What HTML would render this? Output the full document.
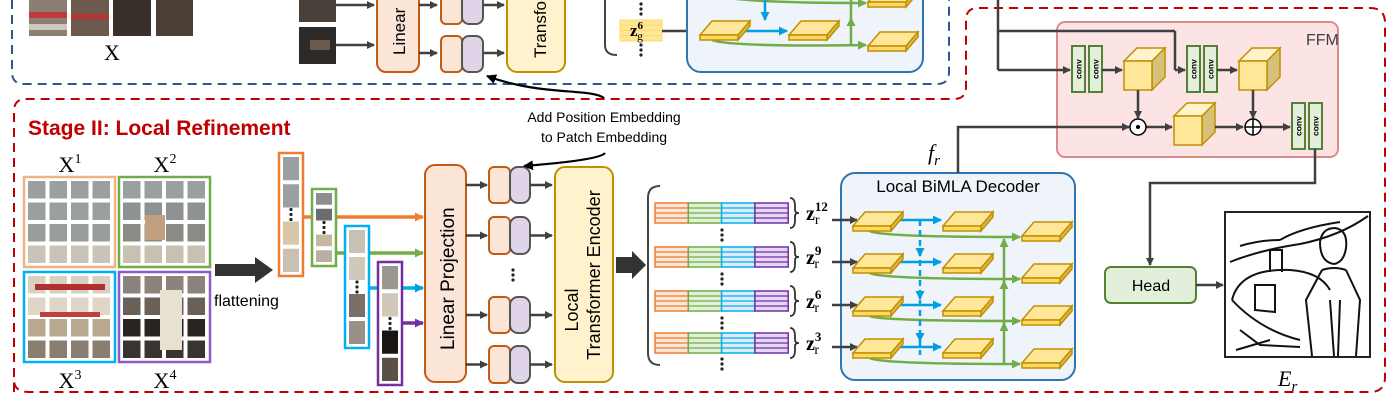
<!DOCTYPE html>
<html><head><meta charset="utf-8"><style>
html,body{margin:0;padding:0;background:#fff;width:1394px;height:406px;overflow:hidden}
svg{display:block;font-family:"Liberation Sans",sans-serif}
</style></head><body>
<svg id="s" xmlns="http://www.w3.org/2000/svg" width="1394" height="406" viewBox="0 0 1394 406">
<defs>
<marker id="ag" markerWidth="8" markerHeight="8" refX="7" refY="4" orient="auto" markerUnits="userSpaceOnUse"><path d="M0,0 L8,4 L0,8 z" fill="#404040"/></marker>
<marker id="agr" markerWidth="9" markerHeight="9" refX="8" refY="4.5" orient="auto" markerUnits="userSpaceOnUse"><path d="M0,0 L9,4.5 L0,9 z" fill="#70ad47"/></marker>
<marker id="abl" markerWidth="9" markerHeight="9" refX="8" refY="4.5" orient="auto" markerUnits="userSpaceOnUse"><path d="M0,0 L9,4.5 L0,9 z" fill="#00a0e0"/></marker>
<marker id="aor" markerWidth="9" markerHeight="9" refX="8" refY="4.5" orient="auto" markerUnits="userSpaceOnUse"><path d="M0,0 L9,4.5 L0,9 z" fill="#ed7d31"/></marker>
<marker id="apu" markerWidth="9" markerHeight="9" refX="8" refY="4.5" orient="auto" markerUnits="userSpaceOnUse"><path d="M0,0 L9,4.5 L0,9 z" fill="#7030a0"/></marker>
<marker id="ak" markerWidth="10" markerHeight="10" refX="9" refY="5" orient="auto" markerUnits="userSpaceOnUse"><path d="M0,0 L10,5 L0,10 z" fill="#000"/></marker>
</defs>

<path d="M12,0 L12,72 Q12,84 24,84 L937,84 Q949,84 949,72 L949,0" fill="none" stroke="#2f5597" stroke-width="2" stroke-dasharray="9,6"/>
<path d="M14,392 L14,111 Q14,99 26,99 L954,99 Q966,99 966,87 L966,20 Q966,8 978,8 L1370,8 Q1385,8 1385,23 L1385,377 Q1385,392 1370,392 L29,392 Q14,392 14,380" fill="none" stroke="#c00000" stroke-width="2" stroke-dasharray="9,6"/>

<g id="g"></g>

<text x="28" y="135" font-size="21" font-weight="bold" fill="#c00000">Stage II: Local Refinement</text>
<text x="112" y="60" font-size="22" font-family="Liberation Serif,serif" text-anchor="middle">X</text>
<text x="70" y="172" font-size="22" font-family="Liberation Serif,serif" text-anchor="middle">X<tspan font-size="14" dy="-9">1</tspan></text>
<text x="165" y="172" font-size="22" font-family="Liberation Serif,serif" text-anchor="middle">X<tspan font-size="14" dy="-9">2</tspan></text>
<text x="70" y="388" font-size="22" font-family="Liberation Serif,serif" text-anchor="middle">X<tspan font-size="14" dy="-9">3</tspan></text>
<text x="165" y="388" font-size="22" font-family="Liberation Serif,serif" text-anchor="middle">X<tspan font-size="14" dy="-9">4</tspan></text>
<text x="214" y="306" font-size="16">flattening</text>
<text x="604" y="122" font-size="14" text-anchor="middle">Add Position Embedding</text>
<text x="604" y="142" font-size="14" text-anchor="middle">to Patch Embedding</text>
<text x="958" y="192" font-size="17" text-anchor="middle">Local BiMLA Decoder</text>
<text x="1306" y="45" font-size="16" fill="#404040">FFM</text>
<text x="1151" y="291" font-size="16" text-anchor="middle">Head</text>
<text x="928" y="160" font-size="22" font-style="italic" font-family="Liberation Serif,serif">f<tspan font-size="15" dy="5">r</tspan></text>
<text x="1278" y="386" font-size="22" font-style="italic" font-family="Liberation Serif,serif">E<tspan font-size="15" dy="5">r</tspan></text>
</svg>
<script>
const G=document.getElementById('g');
function e(t,a,tx){const n=document.createElementNS('http://www.w3.org/2000/svg',t);for(const k in a)n.setAttribute(k,a[k]);if(tx!==undefined)n.textContent=tx;G.appendChild(n);return n;}
function R(x,y,w,h,f,s,sw,r){return e('rect',{x,y,width:w,height:h,fill:f,stroke:s||'none','stroke-width':sw||0,rx:r||0});}
function L(x1,y1,x2,y2,c,w,m,d){const a={x1,y1,x2,y2,stroke:c,'stroke-width':w||2};if(m)a['marker-end']='url(#'+m+')';if(d)a['stroke-dasharray']=d;return e('line',a);}
function P(d,c,w,m,f,da){const a={d,stroke:c,'stroke-width':w||2,fill:f||'none'};if(m)a['marker-end']='url(#'+m+')';if(da)a['stroke-dasharray']=da;return e('path',a);}
function T(x,y,s,tx,o){const a=Object.assign({x,y,'font-size':s},o||{});return e('text',a,tx);}
function dots(x,y){for(let i=0;i<3;i++)e('circle',{cx:x,cy:y+i*5,r:1.6,fill:'#222'});}

const pc=['#8a7f74','#6e5a4c','#3a302b','#4a4038'];
[[29,67],[71,109],[113,151],[156,193]].forEach((p,i)=>{R(p[0],0,p[1]-p[0],36,pc[i]);});
R(29,12,38,6,'#c23a3a');R(71,14,38,5,'#b83434');R(29,24,38,6,'#d0c7b8');
R(299,0,37,22,'#4a403a');R(299,27,37,37,'#2e2a28');R(310,40,20,10,'#6b5a4e');
L(336,5,374,5,'#404040',2.5,'ag');L(336,45,374,45,'#404040',2.5,'ag');
R(377,-12,42,84,'#fbe5d6','#c55a11',2,9);
T(0,0,17,'Linear',{transform:'translate(405,55) rotate(-90)'});
L(419,5,437,5,'#404040',2.5,'ag');L(419,53,437,53,'#404040',2.5,'ag');
R(441,-14,21,38,'#fbe5d6','#c55a11',2,5);R(462,-14,21,38,'#e0d5e8','#555',2,7);
R(441,36,21,36,'#fbe5d6','#c55a11',2,5);R(462,36,21,36,'#e0d5e8','#555',2,7);
L(483,5,504,5,'#404040',2.5,'ag');L(483,53,504,53,'#404040',2.5,'ag');
R(507,-12,58,84,'#fff2cc','#bf9000',2,10);
T(0,0,17,'Transformer',{transform:'translate(546,58) rotate(-90)'});
P('M604,98 C590,88 540,96 487,76','#000',2.2,'ak');
P('M605,0 L605,45 Q605,55 617,55','#444',2);
dots(641,4);dots(641,45);
R(620,20,42,21,'#ffe699','#ffd966',1);
for(let i=1;i<4;i++)L(620,20+i*5.2,662,20+i*5.2,'#ffd966',1);
T(630,36,17,'',{'font-family':'Liberation Serif,serif','font-weight':'bold'}).innerHTML='z<tspan font-size="11" dy="-7">6</tspan><tspan font-size="12" font-weight="normal" dx="-6" dy="11">g</tspan>';
L(662,31,698,31,'#404040',2.5,'ag');
R(687,-14,236,86,'#eef4fa','#2e75b6',2,14);

function layer(x,y){
 e('polygon',{points:`${x},${y+14} ${x+12},${y} ${x+50},${y} ${x+38},${y+14}`,fill:'#ffe699',stroke:'#bf9000','stroke-width':1.5});
 e('polygon',{points:`${x},${y+14} ${x+38},${y+14} ${x+38},${y+19} ${x},${y+19}`,fill:'#ffd966',stroke:'#bf9000','stroke-width':1.5});
 e('polygon',{points:`${x+38},${y+14} ${x+50},${y} ${x+50},${y+5} ${x+38},${y+19}`,fill:'#e0b84a',stroke:'#bf9000','stroke-width':1.5});
}
P('M712,-6 Q730,3 866,3','#70ad47',2.5,'agr');
P('M765,-10 L765,20','#00a0e0',2.5,'abl','6,4');
P('M745,31 L787,31','#00a0e0',2.5,'abl','6,4');
P('M851,45 L851,-5','#70ad47',2.5);
P('M712,40 Q730,47 866,45','#70ad47',2.5,'agr');
P('M851,22 L851,18','#70ad47',2.5,'agr');
layer(700,21);layer(789,21);layer(868,-12);layer(868,32);

const boxes=[[24,177,'#f4b183',['#9aa0a0','#9aa0a0','#9a9e9a','#c8c4b8']],[119,177,'#70ad47',['#9aa0a0','#8e9292','#8a8a86','#c8c0b0']],[24,272,'#00b0f0',['#d8d0c0','#e0d6c6','#b8a890','#8a7e70']],[119,272,'#8e5cc0',['#8a847c','#6a6058','#2a2420','#3a3430']]];
boxes.forEach(b=>{R(b[0],b[1],91,90,'#fff',b[2],2.5);for(let r=0;r<4;r++)for(let c=0;c<4;c++)R(b[0]+4+c*21.5,b[1]+4+r*21.5,17.5,17.5,b[3][r]);});
R(35,284,70,6,'#b03030');R(40,312,60,5,'#c04040');R(145,215,20,25,'#c0a080');R(160,290,22,60,'#e8e0d0');
e('polygon',{points:'215,264 255,264 255,257 273,270 255,283 255,276 215,276',fill:'#333'});
const strips=[[279,153,123,'#ed7d31',217,'aor',['#9aa0a0','#9aa0a0','#d8c8a8','#c8c0b0']],[312,189,77,'#70ad47',253,'agr',['#8a9090','#6a6e6e','#c8b8a0','#b8b0a0']],[345,226,122,'#00b0f0',288,'abl',['#c8c0b0','#d0c8b8','#7a7068','#9a9088']],[378,262,123,'#7030a0',323,'apu',['#9a9690','#d0c8b8','#1a1614','#5a5048']]];
strips.forEach(s=>{const[x,y,h,c,ay,m,cl]=s;R(x,y,24,h,'#fff',c,2.5);const ch=(h-30)/4;
 R(x+4,y+4,16,ch,cl[0]);R(x+4,y+8+ch,16,ch,cl[1]);dots(x+12,y+h/2-5);R(x+4,y+h-8-2*ch,16,ch,cl[2]);R(x+4,y+h-4-ch,16,ch,cl[3]);
 L(x+24,ay,423,ay,c,3.5,m);});
R(425,165,41,217,'#fbe5d6','#c55a11',2,10);
T(0,0,19,'Linear  Projection',{transform:'translate(454,350) rotate(-90)'});
[[167,203],[217,254],[297,333],[346,383]].forEach(r=>{const cy=(r[0]+r[1])/2;
 L(466,cy,487,cy,'#404040',2.5,'ag');R(489,r[0],21,r[1]-r[0],'#fbe5d6','#c55a11',2,5);R(510,r[0],20,r[1]-r[0],'#e0d5e8','#555',2,8);L(530,cy,552,cy,'#404040',2.5,'ag');});
dots(513,270);
P('M605,153 Q600,160 524,166','#000',2.2,'ak');
R(555,167,58,215,'#fff2cc','#bf9000',2,10);
T(0,0,18,'Local',{transform:'translate(578,310) rotate(-90)','text-anchor':'middle'});
T(0,0,18,'Transformer Encoder',{transform:'translate(600,275) rotate(-90)','text-anchor':'middle'});
e('polygon',{points:'616,257 632,257 632,251 646,265 632,279 632,273 616,273',fill:'#333'});
P('M660,186 Q648,186 648,198 L648,353 Q648,365 660,365','#444',2);
const tc=[['#ed7d31','#fbe5d6'],['#70ad47','#e2f0d9'],['#00b0f0','#ddebf7'],['#7030a0','#e6d6f5']];
const rows=[203,247,291,333];
rows.forEach(y=>{tc.forEach((c,i)=>{const x=655+i*33.3;R(x,y,33.3,20,c[1],c[0],1.5);for(let k=1;k<4;k++)L(x,y+k*5,x+33.3,y+k*5,c[0],1.2);});
 P(`M790,${y-5} Q795,${y-5} 795,${y+3} L795,${y+7} Q795,${y+10} 799,${y+10} Q795,${y+10} 795,${y+13} L795,${y+17} Q795,${y+25} 790,${y+25}`,'#333',1.8);});
dots(722,230);dots(722,274);dots(722,318);dots(722,359);
const zl=['12','9','6','3'];
rows.forEach((y,i)=>{const t=T(806,y+17,20,'',{'font-family':'Liberation Serif,serif','font-weight':'bold'});t.innerHTML='z<tspan font-size="13" dy="-9">'+zl[i]+'</tspan><tspan font-size="14" font-weight="normal" dx="'+(zl[i].length>1?-13:-7)+'" dy="13">r</tspan>';});
R(841,173,234,207,'#eef4fa','#2e75b6',2,14);
const c1=[212,254,297,339],c3=[222,264,306,349];
c1.forEach((y,i)=>{L(832,y+8,857,y+8,'#404040',2.5,'ag');
 P(`M870,${y+19} Q880,${c3[i]+15} 1020,${c3[i]+15}`,'#70ad47',2.5,'agr');
 P(`M897,${y+8} L941,${y+8}`,'#00a0e0',2.5,'abl','6,4');});
P('M920,220 L920,355','#00a0e0',2.5,null,null,'6,4');
for(let i=1;i<4;i++)P(`M920,${c1[i]-4} L920,${c1[i]+2}`,'#00a0e0',2.5,'abl');
P('M1004,365 L1004,240','#70ad47',2.5);
for(let i=0;i<3;i++)P(`M1004,${c3[i]+26} L1004,${c3[i]+17}`,'#70ad47',2.5,'agr');
c1.forEach((y,i)=>{layer(853,y);layer(943,y);layer(1022,c3[i]);});
R(1057,22,281,135,'#fce4e4','#d98c8c',2,8);
L(998,0,998,70,'#404040',2.5);L(998,70,1070,70,'#404040',2.5,'ag');
L(998,31,1175,31,'#404040',2.5);L(1175,31,1175,70,'#404040',2.5);L(1175,70,1185,70,'#404040',2.5,'ag');
function conv(x,y){R(x,y,13,46,'#e2efda','#548235',2);T(0,0,8.5,'conv',{transform:`translate(${x+9.5},${y+33}) rotate(-90)`,'font-weight':'bold'});}
conv(1072,46);conv(1089,46);conv(1187,46);conv(1204,46);conv(1292,103);conv(1309,103);
function cube(x,y){e('polygon',{points:`${x},${y+13} ${x+13},${y} ${x+41},${y} ${x+28},${y+13}`,fill:'#fff2cc',stroke:'#bf9000','stroke-width':1.5});
 e('polygon',{points:`${x+28},${y+13} ${x+41},${y} ${x+41},${y+29} ${x+28},${y+42}`,fill:'#d6c07a',stroke:'#bf9000','stroke-width':1.5});
 R(x,y+13,28,29,'#ffe699','#bf9000',1.5);}
L(1102,70,1122,70,'#404040',2.5,'ag');L(1217,70,1237,70,'#404040',2.5,'ag');
cube(1124,48);cube(1239,48);cube(1174,103);
L(1138,90,1138,118,'#404040',2.5,'ag');L(1253,90,1253,118,'#404040',2.5,'ag');
P('M958,173 L958,127 L1129,127','#404040',2.5,'ag');
L(1146,127,1172,127,'#404040',2.5,'ag');L(1215,127,1243,127,'#404040',2.5,'ag');L(1261,127,1290,127,'#404040',2.5,'ag');
e('circle',{cx:1138,cy:127,r:8,fill:'#fff',stroke:'#000','stroke-width':1.5});e('circle',{cx:1138,cy:127,r:2,fill:'#000'});
e('circle',{cx:1253,cy:127,r:8,fill:'#fff',stroke:'#000','stroke-width':1.5});L(1245,127,1261,127,'#000',1.5);L(1253,119,1253,135,'#000',1.5);
P('M1315,149 L1315,183 L1150,183 L1150,265','#404040',2.5,'ag');
R(1105,267,91,36,'#e2efda','#548235',2,6);
L(1196,285,1223,285,'#404040',2.5,'ag');
R(1225,212,145,145,'#fff','#222',2);
const ed=[
'M1230,262 Q1260,250 1300,244 Q1340,236 1368,216','M1240,246 Q1260,240 1280,240','M1280,240 Q1300,228 1340,222',
'M1232,300 Q1240,268 1290,270 Q1320,272 1330,290','M1232,300 Q1260,330 1300,340','M1255,285 L1255,310 L1275,312 L1275,285 Z',
'M1270,272 L1270,250 L1282,250 L1282,272','M1320,242 Q1322,228 1335,228 Q1348,230 1346,248 Q1344,262 1334,264 Q1320,262 1320,242',
'M1322,270 L1306,300 L1312,356','M1346,270 L1360,300 L1356,356','M1322,270 Q1334,266 1346,270','M1330,300 L1334,356','M1340,300 L1338,356',
'M1240,330 L1260,345 L1300,347','M1236,350 L1270,340'];
ed.forEach(d=>P(d,'#111',2));
</script>
</body></html>
